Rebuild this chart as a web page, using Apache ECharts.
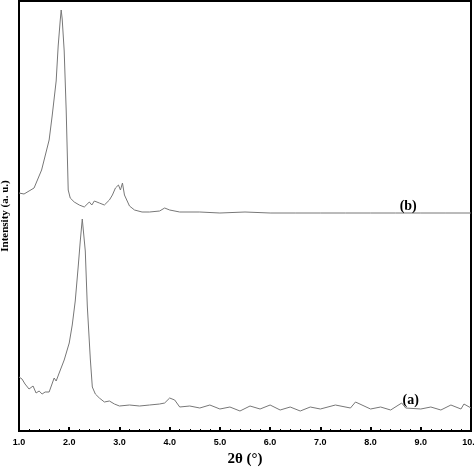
<!DOCTYPE html>
<html><head><meta charset="utf-8">
<script src="https://cdn.jsdelivr.net/npm/echarts@6/dist/echarts.min.js"></script>
<style>body{margin:0}#c{width:474px;height:467px}</style></head>
<body><div id="c"></div>
<script>
// 2theta values and intensities (arbitrary units)
const thetaB = [1.0,1.1,1.2,1.3,1.45,1.6,1.66,1.74,1.78,1.82,1.84,1.86,1.9,1.94,1.98,2.02,2.1,2.2,2.3,2.4,2.45,2.5,2.6,2.7,2.8,2.86,2.92,2.98,3.02,3.06,3.1,3.2,3.3,3.45,3.6,3.8,3.9,4.0,4.2,4.6,5.0,5.5,6.0,6.5,7.0,7.5,8.0,8.5,9.0,9.5,10.0];
const intB = [238,237,240,243,261,291,315,350,385,410,421,412,380,320,241,233,229,226,224,229,226,230,228,226,231,236,243,246,241,248,236,225,221,219,219,220,223,221,219,219,218,219,218,218,218,218,218,218,218,218,218];
const thetaA = [1.0,1.06,1.12,1.2,1.28,1.34,1.4,1.46,1.52,1.6,1.7,1.74,1.8,1.9,2.0,2.06,2.12,2.18,2.22,2.26,2.28,2.32,2.36,2.42,2.46,2.52,2.6,2.7,2.8,2.9,3.0,3.2,3.4,3.6,3.8,3.9,4.0,4.1,4.2,4.4,4.6,4.8,5.0,5.2,5.4,5.6,5.8,6.0,6.2,6.4,6.6,6.8,7.0,7.3,7.6,7.7,8.0,8.2,8.4,8.62,8.7,9.0,9.2,9.4,9.6,9.8,9.86,10.0];
const intA = [54,52,47,42,45,38,40,37,39,39,53,50,58,71,88,106,130,165,190,212,214,180,125,72,44,37,33,29,30,27,25,26,25,26,27,28,33,31,24,25,23,26,22,24,20,25,22,26,21,24,20,24,22,26,23,29,22,24,21,28,23,22,24,21,26,22,27,23];

const pair = (xs, ys) => xs.map((x, i) => [x, ys[i]]);

const chart = echarts.init(document.getElementById('c'));
chart.setOption({
  animation: false,
  grid: {left: 19, right: 3, top: 1, bottom: 36, outerBoundsMode: 'none', containLabel: false,
         show: true, borderColor: '#000', borderWidth: 2},
  xAxis: {
    type: 'value', min: 1, max: 10, interval: 1,
    name: '2θ (°)', nameLocation: 'middle', nameGap: 21,
    nameTextStyle: {fontFamily: 'Liberation Serif', fontWeight: 'bold', fontSize: 15, color: '#000'},
    axisLine: {lineStyle: {color: '#000', width: 2}},
    axisTick: {inside: true, length: 4, lineStyle: {color: '#000', width: 2}},
    minorTick: {show: true, splitNumber: 5, length: 2, lineStyle: {color: '#000'}},
    axisLabel: {formatter: v => v.toFixed(1), fontFamily: 'Liberation Sans', fontWeight: 'bold', fontSize: 9, color: '#000', margin: 7},
    splitLine: {show: false}
  },
  yAxis: {
    type: 'value', min: 0, max: 430,
    name: 'Intensity (a. u.)', nameLocation: 'middle', nameGap: 8, nameRotate: 90,
    nameTextStyle: {fontFamily: 'Liberation Serif', fontWeight: 'bold', fontSize: 11, color: '#000'},
    axisLine: {show: true, lineStyle: {color: '#000', width: 2}},
    axisTick: {show: false}, axisLabel: {show: false}, splitLine: {show: false}
  },
  series: [
    {type: 'line', data: pair(thetaB, intB), symbol: 'none', lineStyle: {color: '#777', width: 1},
     markPoint: {symbol: 'rect', symbolSize: 1, itemStyle: {color: 'transparent'},
       label: {show: true, formatter: '(b)', fontFamily: 'Liberation Serif', fontWeight: 'bold', fontSize: 14, color: '#000'},
       data: [{coord: [8.75, 225]}]}},
    {type: 'line', data: pair(thetaA, intA), symbol: 'none', lineStyle: {color: '#777', width: 1},
     markPoint: {symbol: 'rect', symbolSize: 1, itemStyle: {color: 'transparent'},
       label: {show: true, formatter: '(a)', fontFamily: 'Liberation Serif', fontWeight: 'bold', fontSize: 14, color: '#000'},
       data: [{coord: [8.8, 31]}]}}
  ]
});
</script></body></html>
